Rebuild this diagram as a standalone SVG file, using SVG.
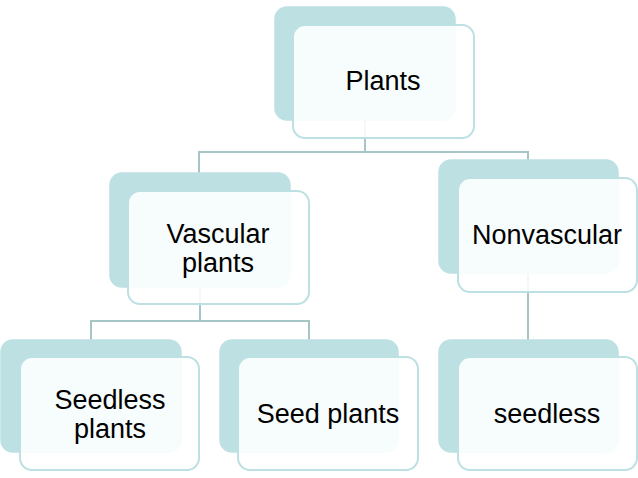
<svg xmlns="http://www.w3.org/2000/svg" width="638" height="478" viewBox="0 0 638 478">
<style>
.b{fill:#bde0e3;stroke:#bde0e3;stroke-width:1.5}
.f{fill:#ffffff;fill-opacity:0.88;stroke:#bde0e3;stroke-width:2}
text{font-family:"Liberation Sans",Arial,sans-serif;font-size:27px;fill:#000;text-anchor:middle}
.c{fill:none;stroke:#a7c4c7;stroke-width:2}
</style>
<rect width="638" height="478" fill="#fff"/>
<g id="connectors">
<path class="c" d="M365 120V152H199V173M365 152H528V160"/>
<path class="c" d="M200 287V321H91V340M200 321H309V340"/>
<path class="c" d="M528 273V340"/>
</g>
<g id="plants"><rect class="b" x="275" y="7" width="180" height="113" rx="12"/><rect class="f" x="293" y="25" width="181" height="113" rx="12"/><text x="383" y="90">Plants</text></g>
<g id="vascular"><rect class="b" x="110" y="173" width="180" height="114" rx="12"/><rect class="f" x="128" y="191" width="181" height="113" rx="12"/><text x="218" y="243">Vascular</text><text x="218" y="272">plants</text></g>
<g id="nonvascular"><rect class="b" x="439" y="160" width="179" height="113" rx="12"/><rect class="f" x="458" y="178" width="179" height="114" rx="12"/><text x="547" y="244">Nonvascular</text></g>
<g id="seedless-plants"><rect class="b" x="1" y="340" width="180" height="112" rx="12"/><rect class="f" x="20" y="357" width="179" height="113" rx="12"/><text x="110" y="409">Seedless</text><text x="110" y="438">plants</text></g>
<g id="seed-plants"><rect class="b" x="220" y="340" width="178" height="112" rx="12"/><rect class="f" x="238" y="357" width="180" height="113" rx="12"/><text x="328" y="423">Seed plants</text></g>
<g id="seedless"><rect class="b" x="439" y="340" width="179" height="112" rx="12"/><rect class="f" x="458" y="357" width="179" height="113" rx="12"/><text x="547" y="423">seedless</text></g>
</svg>
